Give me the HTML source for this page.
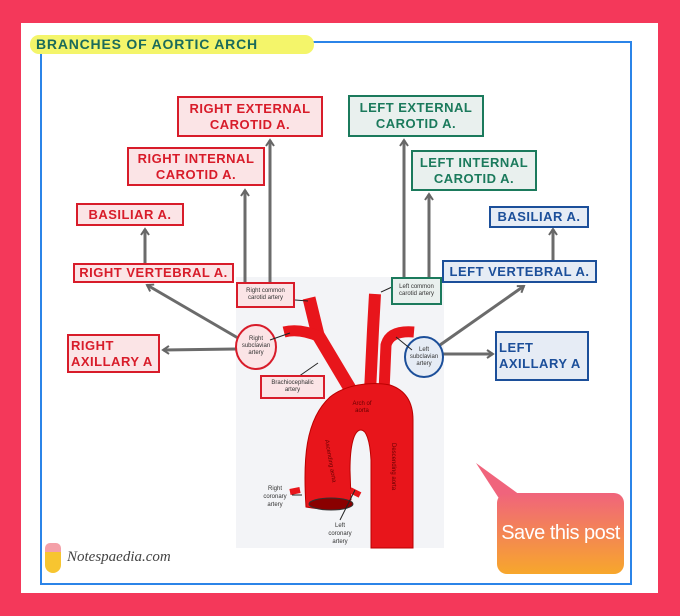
<!DOCTYPE html>
<html><head><style>
body{margin:0;width:680px;height:616px;background:#f4385a;position:relative;overflow:hidden;font-family:"Liberation Sans",sans-serif}
.w{position:absolute;left:21px;top:23px;width:637px;height:570px;background:#fff}
.b{position:absolute;box-sizing:border-box;border:2px solid;font-weight:bold;text-align:center;font-size:13px;line-height:16px;display:flex;align-items:center;justify-content:center;letter-spacing:.5px}
.r{border-color:#d81c2a;color:#d81c2a;background:#fbe4e6}
.g{border-color:#1b7a5c;color:#1b7a5c;background:#e9f0ee}
.u{border-color:#1c4f9a;color:#1c4f9a;background:#e6ecf5}
.s{font-size:6px;line-height:7px;font-weight:normal;color:#333;letter-spacing:0}
</style></head><body>
<div class="w"></div>
<div style="position:absolute;left:40px;top:41px;width:592px;height:544px;border:2px solid #2b84e8;box-sizing:border-box"></div>
<div style="position:absolute;left:30px;top:35px;width:284px;height:19px;background:#f4f56a;border-radius:9px"></div>
<div style="position:absolute;left:36px;top:36px;font-weight:bold;font-size:14px;color:#1b6b5a;letter-spacing:.8px">BRANCHES OF AORTIC ARCH</div>
<div style="position:absolute;left:236px;top:277px;width:208px;height:271px;background:#f3f4f7"></div>
<svg width="680" height="616" style="position:absolute;left:0;top:0">
<defs><marker id="a" markerWidth="10" markerHeight="10" refX="7" refY="5" orient="auto" markerUnits="userSpaceOnUse"><path d="M1,1 L7,5 L1,9" fill="none" stroke="#666" stroke-width="2"/></marker></defs>
<g stroke="#6b6b6b" stroke-width="3" fill="none" marker-end="url(#a)">
<line x1="270" y1="282" x2="270" y2="140"/><line x1="245" y1="282" x2="245" y2="190"/><line x1="145" y1="263" x2="145" y2="229"/>
<line x1="404" y1="277" x2="404" y2="140"/><line x1="429" y1="277" x2="429" y2="194"/><line x1="553" y1="260" x2="553" y2="229"/>
<line x1="238" y1="338" x2="147" y2="285"/><line x1="236" y1="349" x2="163" y2="350"/>
<line x1="440" y1="345" x2="524" y2="286"/><line x1="443" y1="354" x2="493" y2="354"/>
</g>
<g fill="none" stroke="#e8151b" stroke-linecap="butt">
<path d="M352,392 L318,335 L309,298" stroke-width="13"/>
<path d="M320,337 Q300,328 284,332" stroke-width="11"/>
<path d="M370,392 L373,330 L375,294" stroke-width="12"/>
<path d="M384,392 L386,345 Q390,330 414,332" stroke-width="11"/>
</g>
<path d="M306,507 C303,460 305,420 330,397 C345,385 370,381 390,385 C408,391 413,405 413,420 L413,548 L371,548 L371,460 C370,440 366,430 361,430 C354,430 350,445 350,470 L351,500 Q330,512 306,507 Z" fill="#e8151b" stroke="#b00" stroke-width="1"/>
<ellipse cx="331" cy="504" rx="22" ry="6" fill="#8a0000" stroke="#333"/>
<path d="M300,490 L290,492 M350,490 L360,495" stroke="#e8151b" stroke-width="6"/>
<ellipse cx="256" cy="347" rx="20" ry="22" fill="#fbe4e6" stroke="#d81c2a" stroke-width="2"/>
<ellipse cx="424" cy="357" rx="19" ry="20" fill="#e6ecf5" stroke="#1c4f9a" stroke-width="2"/>
<g stroke="#222" stroke-width="1"><line x1="270" y1="340" x2="290" y2="333"/><line x1="295" y1="379" x2="318" y2="363"/><line x1="295" y1="300" x2="308" y2="301"/><line x1="381" y1="292" x2="392" y2="287"/><line x1="412" y1="350" x2="396" y2="337"/><line x1="292" y1="495" x2="302" y2="495"/><line x1="340" y1="520" x2="355" y2="490"/></g>
<text x="256" y="340" font-size="6" text-anchor="middle" fill="#333">Right</text><text x="256" y="347" font-size="6" text-anchor="middle" fill="#333">subclavian</text><text x="256" y="354" font-size="6" text-anchor="middle" fill="#333">artery</text>
<text x="424" y="351" font-size="6" text-anchor="middle" fill="#333">Left</text><text x="424" y="358" font-size="6" text-anchor="middle" fill="#333">subclavian</text><text x="424" y="365" font-size="6" text-anchor="middle" fill="#333">artery</text>
<text x="275" y="490" font-size="6" text-anchor="middle" fill="#333">Right</text><text x="275" y="498" font-size="6" text-anchor="middle" fill="#333">coronary</text><text x="275" y="506" font-size="6" text-anchor="middle" fill="#333">artery</text>
<text x="340" y="527" font-size="6" text-anchor="middle" fill="#333">Left</text><text x="340" y="535" font-size="6" text-anchor="middle" fill="#333">coronary</text><text x="340" y="543" font-size="6" text-anchor="middle" fill="#333">artery</text>
<text x="362" y="405" font-size="6" text-anchor="middle" fill="#600">Arch of</text><text x="362" y="412" font-size="6" text-anchor="middle" fill="#600">aorta</text>
<text font-size="6" fill="#600" transform="translate(325,440) rotate(80)">Ascending aorta</text>
<text font-size="6" fill="#600" transform="translate(392,443) rotate(90)">Descending aorta</text>
<path d="M476,463 L520,495 L500,500 Z" fill="#f0647c"/>
</svg>
<div class="b r" style="left:177px;top:96px;width:146px;height:41px">RIGHT EXTERNAL<br>CAROTID A.</div>
<div class="b r" style="left:127px;top:147px;width:138px;height:39px">RIGHT INTERNAL<br>CAROTID A.</div>
<div class="b r" style="left:76px;top:203px;width:108px;height:23px">BASILIAR A.</div>
<div class="b r" style="left:73px;top:263px;width:161px;height:20px">RIGHT VERTEBRAL A.</div>
<div class="b r s" style="left:236px;top:282px;width:59px;height:26px">Right common<br>carotid artery</div>
<div class="b r s" style="left:260px;top:375px;width:65px;height:24px">Brachiocephalic<br>artery</div>
<div class="b r" style="left:67px;top:334px;width:93px;height:39px;justify-content:flex-start;text-align:left;padding-left:2px">RIGHT<br>AXILLARY A</div>
<div class="b g" style="left:348px;top:95px;width:136px;height:42px">LEFT EXTERNAL<br>CAROTID A.</div>
<div class="b g" style="left:411px;top:150px;width:126px;height:41px">LEFT INTERNAL<br>CAROTID A.</div>
<div class="b g s" style="left:391px;top:277px;width:51px;height:28px">Left common<br>carotid artery</div>
<div class="b u" style="left:489px;top:206px;width:100px;height:22px">BASILIAR A.</div>
<div class="b u" style="left:442px;top:260px;width:155px;height:23px">LEFT VERTEBRAL A.</div>
<div class="b u" style="left:495px;top:331px;width:94px;height:50px;justify-content:flex-start;text-align:left;padding-left:2px">LEFT<br>AXILLARY A</div>
<div style="position:absolute;left:497px;top:493px;width:127px;height:81px;border-radius:10px;background:linear-gradient(#f0647c,#f7a72c);color:#fff;font-size:20px;white-space:nowrap;display:flex;align-items:center;justify-content:center;font-family:'Liberation Sans Narrow','Liberation Sans',sans-serif;letter-spacing:-.5px">Save this post</div>
<div style="position:absolute;left:45px;top:543px;width:16px;height:30px;background:linear-gradient(#f4a0a8 30%,#f7c530 30%);border-radius:5px 5px 8px 8px"></div>
<div style="position:absolute;left:67px;top:549px;font-family:'Liberation Serif',serif;font-style:italic;font-size:15px;color:#444">Notespaedia.com</div>
</body></html>
